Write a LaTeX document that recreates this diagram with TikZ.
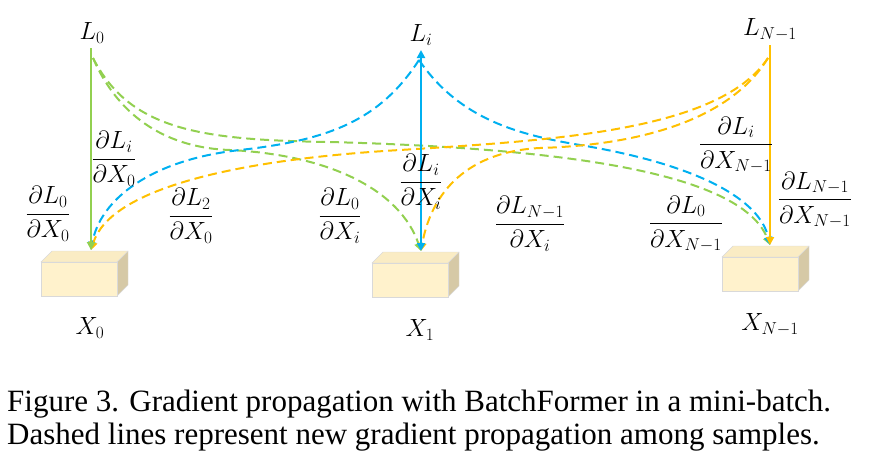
\documentclass[tikz,border=0pt]{standalone}
\usepackage{fontspec}
\usepackage{amsmath}
\newfontfamily\capfont{Liberation Serif}
\definecolor{cg}{RGB}{146,208,80}
\definecolor{cb}{RGB}{0,176,240}
\definecolor{co}{RGB}{255,192,0}
\definecolor{bxf}{RGB}{255,242,204}
\definecolor{bxs}{RGB}{214,201,166}
\definecolor{bxt}{RGB}{250,236,196}
\usetikzlibrary{arrows.meta}
\tikzset{
 grad/.style={line width=2pt,dash pattern=on 9pt off 5pt,-{Triangle[length=8pt,width=8pt]}},
 solidg/.style={line width=2pt,-{Triangle[length=8pt,width=8pt]}},
 lab/.style={font=\fontsize{25}{30}\selectfont},
 fr/.style={font=\fontsize{25}{30}\selectfont,inner sep=0pt},
}
\newcommand{\mybox}[2]{%
 \fill[bxs,draw=black!15] (#1+76,#2) -- (#1+87,#2-11) -- (#1+87,#2+23) -- (#1+76,#2+34) -- cycle;
 \fill[bxt,draw=black!15] (#1,#2) -- (#1+11,#2-11) -- (#1+87,#2-11) -- (#1+76,#2) -- cycle;
 \fill[bxf,draw=black!15] (#1,#2) rectangle (#1+76,#2+34);
}
\begin{document}
\begin{tikzpicture}[x=1pt,y=-1pt]
\useasboundingbox (0,0) rectangle (878,466);
\mybox{41}{262}
\mybox{372}{263}
\mybox{722}{257}
\node[lab] (L0) at (92,33) {$L_0$};
\node[lab] (Li) at (421,35) {$L_i$};
\node[lab] (LN) at (770,30) {$L_{N-1}$};
\node[lab] (X0) at (90,328) {$X_0$};
\node[lab] (X1) at (420,330) {$X_1$};
\node[lab] (XN) at (770,325) {$X_{N-1}$};
\coordinate (l0) at (91,48);
\coordinate (l0d) at (93,58);
\coordinate (li) at (421,50);
\coordinate (lid) at (419,60);
\coordinate (ln) at (770,45);
\coordinate (lnd) at (768,58);
\coordinate (x0) at (91,250);
\coordinate (x1) at (421,251);
\coordinate (xn) at (770,245);
% dashed
\draw[grad,cg] (l0d) .. controls (120,120) and (170,148) .. (230,150) .. controls (330,155) and (400,190) .. (x1);
\draw[grad,cg] (l0d) .. controls (130,130) and (200,140) .. (330,142) .. controls (550,148) and (740,170) .. (xn);
\draw[grad,cb] (lid) .. controls (380,120) and (330,140) .. (240,150) .. controls (150,160) and (100,200) .. (x0);
\draw[grad,cb] (lid) .. controls (460,120) and (520,135) .. (580,145) .. controls (700,165) and (760,200) .. (xn);
\draw[grad,co] (lnd) .. controls (720,130) and (560,140) .. (400,150) .. controls (230,160) and (110,190) .. (x0);
\draw[grad,co] (lnd) .. controls (730,120) and (640,145) .. (540,148) .. controls (460,152) and (430,200) .. (x1);
% solid
\draw[solidg,cg] (l0) -- (x0);
\draw[solidg,cb,{Triangle[length=8pt,width=8pt]}-{Triangle[length=8pt,width=8pt]}] (li) -- (x1);
\draw[solidg,co] (ln) -- (xn);
% fractions
\node[fr] (f1) at (48,214) {$\dfrac{\partial L_0}{\partial X_0}$};
\node[fr] (f2) at (114,159) {$\dfrac{\partial L_i}{\partial X_0}$};
\node[fr] (f3) at (191,216) {$\dfrac{\partial L_2}{\partial X_0}$};
\node[fr] (f4) at (340,216) {$\dfrac{\partial L_0}{\partial X_i}$};
\node[fr] (f5) at (421,182) {$\dfrac{\partial L_i}{\partial X_i}$};
\node[fr] (f6) at (530,224) {$\dfrac{\partial L_{N-1}}{\partial X_i}$};
\node[fr] (f7) at (686,224) {$\dfrac{\partial L_0}{\partial X_{N-1}}$};
\node[fr] (f8) at (736,145) {$\dfrac{\partial L_i}{\partial X_{N-1}}$};
\node[fr] (f9) at (815,200) {$\dfrac{\partial L_{N-1}}{\partial X_{N-1}}$};
\node[anchor=west,inner sep=0pt,font=\capfont\fontsize{31}{33}\selectfont,align=left] (cap) at (7,421)
 {Figure 3. Gradient propagation with BatchFormer in a mini-batch.\\Dashed lines represent new gradient propagation among samples.};
\end{tikzpicture}
\end{document}
